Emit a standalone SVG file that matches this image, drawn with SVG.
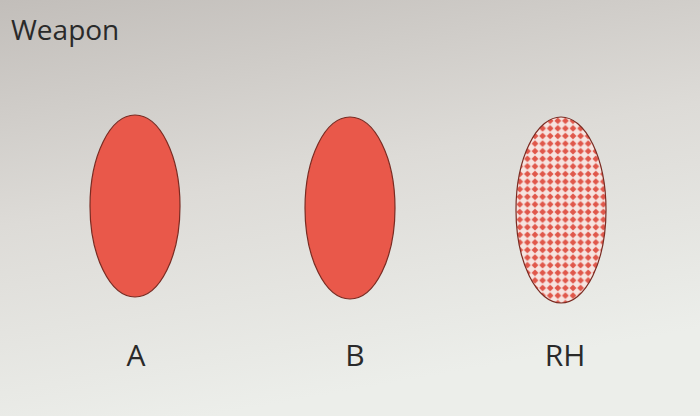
<svg xmlns="http://www.w3.org/2000/svg" width="700" height="416" viewBox="0 0 700 416">
<defs>
<linearGradient id="bg" x1="0" y1="0" x2="0.3" y2="1">
<stop offset="0" stop-color="#c2beba"/>
<stop offset="0.5" stop-color="#dddbd7"/>
<stop offset="1" stop-color="#eceeea"/>
</linearGradient>
<pattern id="dots" width="7.6" height="7.6" patternUnits="userSpaceOnUse" x="516" y="117">
<rect width="7.6" height="7.6" fill="#f6e4e0"/>
<path d="M3.8 0.4 L7.2 3.8 L3.8 7.2 L0.4 3.8 Z" fill="#e0574a"/>
</pattern>
<style>
.oval{stroke:#7a2b22;stroke-width:1.2}
.solid{fill:#e9584a}
.lbl{font-family:"Open Sans","Liberation Sans",sans-serif;fill:#2a2a2a}
</style>
</defs>
<rect width="700" height="416" fill="url(#bg)"/>
<text class="lbl" x="11" y="40" font-size="28">Weapon</text>
<g id="nodeA">
<ellipse class="oval solid" cx="135" cy="206" rx="45" ry="91"/>
<text class="lbl" x="136" y="366" font-size="30" text-anchor="middle">A</text>
</g>
<g id="nodeB">
<ellipse class="oval solid" cx="350" cy="208" rx="45" ry="91"/>
<text class="lbl" x="355" y="366" font-size="30" text-anchor="middle">B</text>
</g>
<g id="nodeRH">
<ellipse class="oval" cx="561" cy="210" rx="45" ry="93" fill="url(#dots)"/>
<text class="lbl" x="565" y="366" font-size="30" text-anchor="middle">RH</text>
</g>
<g id="connectors"/>
</svg>
